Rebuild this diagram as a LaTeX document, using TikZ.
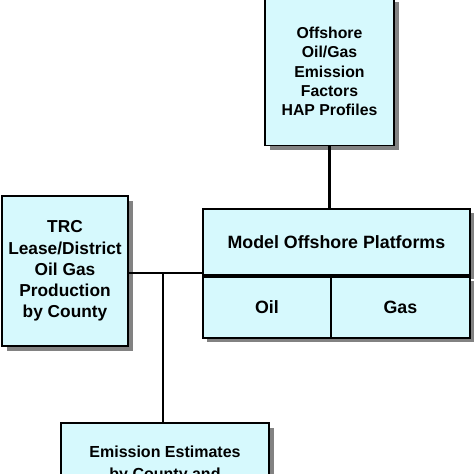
\documentclass[tikz,border=0pt]{standalone}
\usepackage{fontspec}
\setmainfont{Liberation Sans}
\usetikzlibrary{shadows}
\definecolor{boxfill}{RGB}{214,249,253}
\definecolor{shadowgray}{RGB}{130,130,130}

\begin{document}
\begin{tikzpicture}[x=1pt,y=-1pt,
  box/.style={draw,line width=1.8pt,fill=boxfill,align=center,inner sep=0pt,
    font=\bfseries,
    drop shadow={shadow xshift=4.5pt,shadow yshift=-4.5pt,fill=shadowgray,opacity=1}},
  link/.style={line width=2.2pt}]
\useasboundingbox (0,0) rectangle (474,474);

\node[box,minimum width=129pt,minimum height=148pt,
  font=\fontsize{15.8}{19.3}\selectfont\bfseries] (factors) at (329.5,71.5)
  {Offshore\\Oil/Gas\\Emission\\Factors\\HAP Profiles};

\node[box,minimum width=126pt,minimum height=150pt,
  font=\fontsize{17.3}{21.2}\selectfont\bfseries] (trc) at (65,271)
  {TRC\\Lease/District\\Oil Gas\\Production\\by County};

\node[box,anchor=north west,minimum width=267pt,minimum height=66pt,
  font=\fontsize{17.8}{21}\selectfont\bfseries] (model) at (202,208)
  {Model Offshore Platforms};
\node[box,anchor=north west,minimum width=128pt,minimum height=61pt,
  font=\fontsize{17.8}{21}\selectfont\bfseries] (oil) at (model.south west) {Oil};
\node[box,anchor=north east,minimum width=139pt,minimum height=61pt,
  font=\fontsize{17.8}{21}\selectfont\bfseries] (gas) at (model.south east) {Gas};

\node[box,minimum width=208pt,minimum height=82pt,
  font=\fontsize{16}{22}\selectfont\bfseries] (estimates) at (165,464)
  {Emission Estimates\\by County and};

\coordinate (junc) at (163,273);

\draw[link] (factors.south) -- (factors.south |- model.north);
\draw[link] (trc.east |- junc) -- (junc -| model.west);
\draw[link] (junc) -- (junc |- estimates.north);
\end{tikzpicture}
\end{document}
